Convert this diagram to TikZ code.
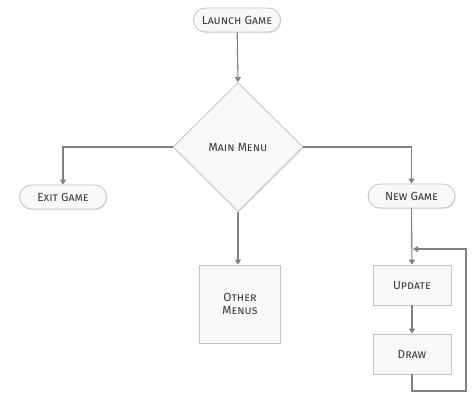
\documentclass[tikz,border=0pt]{standalone}
\usepackage{fontspec}
\usepackage{tikz}
\usetikzlibrary{shapes.geometric,arrows.meta,shadows}
\newfontfamily\labelfont{Fira Sans}[Letters=SmallCaps]
\definecolor{boxline}{HTML}{C4C4C4}
\definecolor{boxfill}{HTML}{F8F8F8}
\definecolor{flowline}{HTML}{808080}
\definecolor{labeltext}{HTML}{3A3A3A}

\begin{document}
\begin{tikzpicture}[x=1pt, y=-1pt,
    base/.style={draw=boxline, fill=boxfill, line width=0.8pt, text=labeltext,
      font=\labelfont\fontsize{11.8}{13.5}\selectfont, align=center, inner sep=0pt,
      drop shadow={shadow xshift=0.8pt, shadow yshift=-1pt, fill=black, opacity=0.12}},
    pill/.style={base, rectangle, rounded corners=12pt, minimum width=87pt, minimum height=24pt},
    choice/.style={base, diamond, minimum width=130pt, minimum height=129pt},
    stepbox/.style={base, rectangle, minimum width=78pt, minimum height=40pt},
    flow/.style={draw=flowline, line width=1.1pt, -{Triangle[length=5pt, width=6pt]}}]
  \useasboundingbox (0,0) rectangle (474,400);
  \node[pill] (launch) at (237, 20) {Launch Game};
  \node[choice] (menu) at (238, 147) {Main Menu};
  \node[pill] (exit) at (63, 197) {Exit Game};
  \node[pill] (newgame) at (411.5, 196) {New Game};
  \node[stepbox, minimum width=81pt, minimum height=78pt] (other) at (240, 304) {Other\\Menus};
  \node[stepbox] (update) at (412, 285) {Update};
  \node[stepbox] (draw) at (412, 354) {Draw};
  \coordinate (loopturn) at (466, 391);
  \coordinate (loopin) at (413, 249);
  \draw[flow] (launch) -- (menu.north);
  \draw[flow] (menu.west) -| (exit.north);
  \draw[flow] (menu.east) -| (newgame.north);
  \draw[flow] (menu.south) -- (menu.south |- other.north);
  \draw[flow] (newgame) -- (update);
  \draw[flow] (update) -- (draw);
  \draw[flow] (draw.south) |- (loopturn) |- (loopin);
\end{tikzpicture}
\end{document}
